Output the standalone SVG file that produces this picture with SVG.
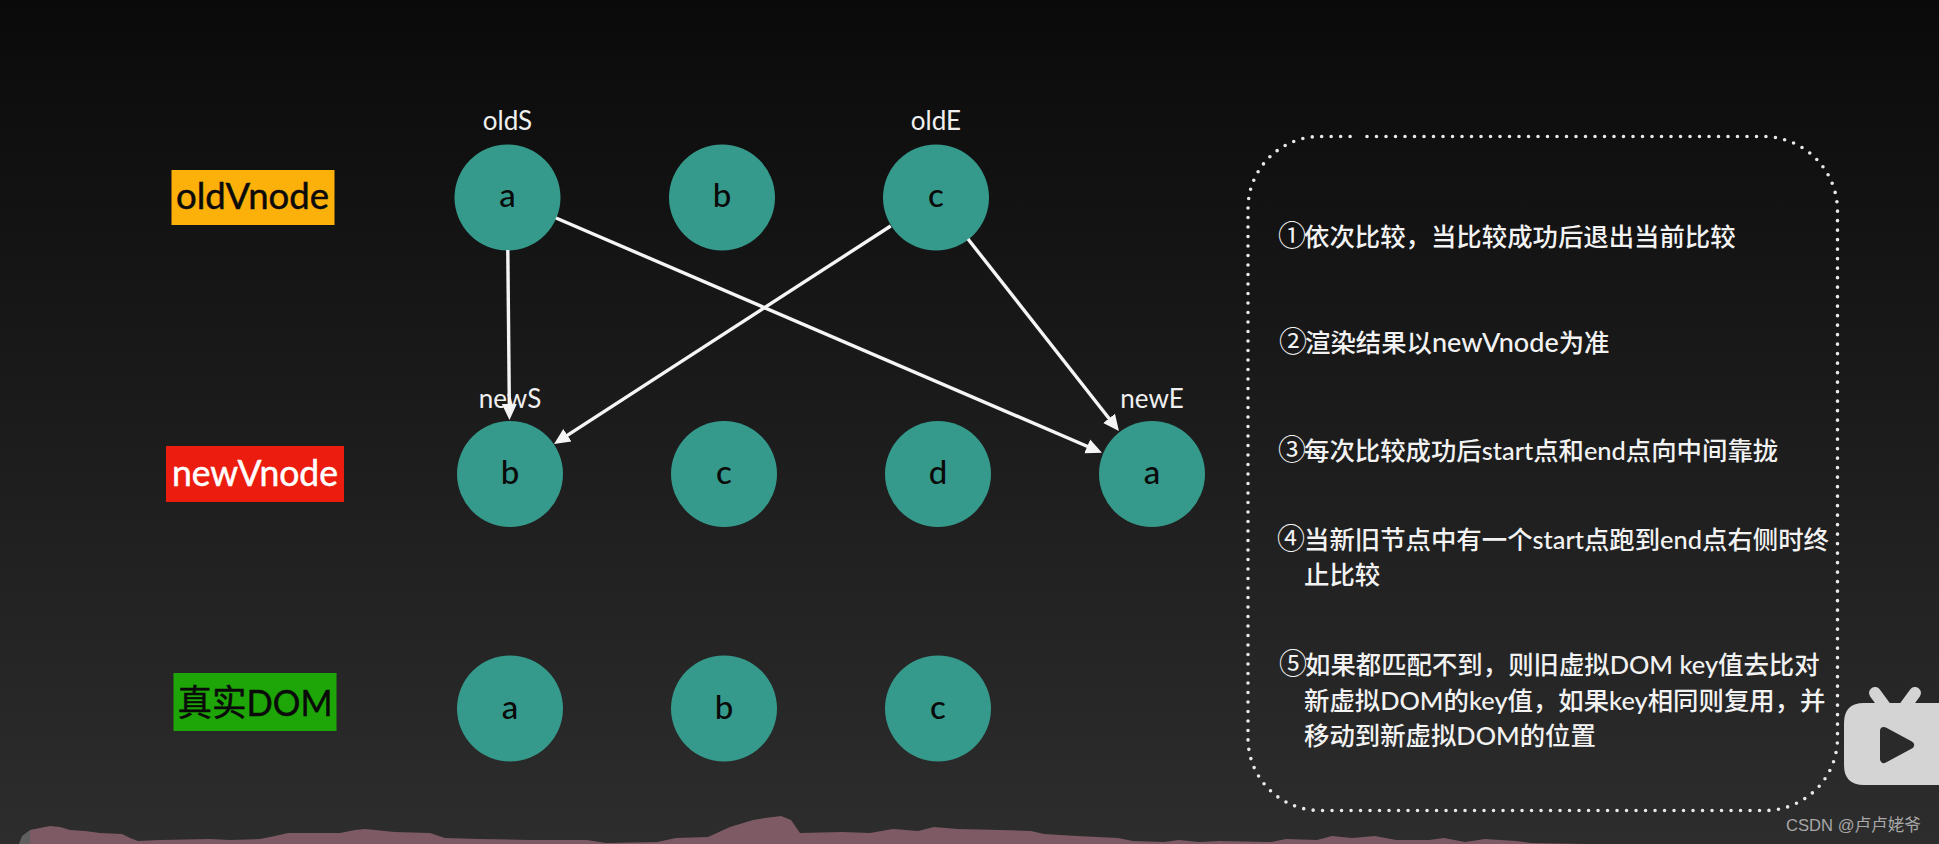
<svg xmlns="http://www.w3.org/2000/svg" width="1939" height="844" viewBox="0 0 1939 844">
<style>
.n{fill:#359a8b}
.t{font-family:"Lato","Noto Sans CJK SC",sans-serif;font-size:33px;font-weight:500;fill:#0a0a0a;text-anchor:middle}
.s{font-family:"Lato","Noto Sans",sans-serif;font-size:26px;fill:#f0f0f0;text-anchor:middle}
.l{font-family:"Lato","Noto Sans CJK SC",sans-serif;font-size:36px;font-weight:400;text-anchor:middle;stroke-width:.5}
.p{font-family:"Lato","Noto Sans CJK SC",sans-serif;font-size:25.4px;font-weight:500;fill:#f2f2f2}
.o{font-family:"Noto Sans CJK SC",sans-serif;font-size:28px;font-weight:400}
.w{font-size:27px}
.c{fill:none;stroke:#f5f5f5;stroke-width:3.4;marker-end:url(#ah)}
</style>
<defs>
<linearGradient id="bg" x1="0" y1="0" x2="0" y2="1"><stop offset="0" stop-color="#0a0a0a"/><stop offset="1" stop-color="#2d2d2d"/></linearGradient>
<marker id="ah" markerUnits="userSpaceOnUse" markerWidth="19" markerHeight="18" refX="8" refY="8.5" orient="auto"><path d="M0 1 L16 8.5 L0 16 Z" fill="#f5f5f5"/></marker>
</defs>
<rect width="1939" height="844" fill="url(#bg)"/>
<path id="wave-end" d="M19 844 L22 836 L30 830 L30 844Z" fill="#5f5f5f"/>
<path id="wave" fill="#7d5a64" d="M30 844 L30 830 L40 828 L50 826 L60 827 L70 830 L85 831 L100 833 L122 834 L130 838 L138 841 L160 840 L210 839 L230 840 L260 839 L275 836 L288 833 L340 833 L355 830 L365 829 L395 832 L430 833 L445 838 L480 839 L529 840 L587 840 L606 843 L657 842 L676 838 L708 837 L730 827 L753 820 L765 818 L781 816 L791 820 L800 833 L842 832 L870 833 L893 829 L918 831 L934 827 L957 829 L1000 830 L1031 831 L1044 834 L1077 836 L1118 838 L1133 841 L1164 842 L1179 840 L1199 842 L1220 841 L1271 842 L1286 839 L1317 840 L1332 836 L1352 838 L1375 836 L1396 840 L1429 840 L1444 838 L1465 842 L1485 839 L1516 841 L1531 843 L1587 844 Z"/>
<g id="label-old"><rect x="171.5" y="170" width="163" height="55" fill="#fcb00a"/><text class="l" x="252.5" y="209" fill="#0a0a0a" stroke="#0a0a0a" textLength="153" lengthAdjust="spacingAndGlyphs">oldVnode</text></g>
<g id="label-new"><rect x="166" y="446" width="178" height="56" fill="#ec1c0e"/><text class="l" x="255" y="486" fill="#fff" stroke="#fff" textLength="166" lengthAdjust="spacingAndGlyphs">newVnode</text></g>
<g id="label-dom"><rect x="173.5" y="673" width="163" height="58" fill="#1ea507"/><text class="l" x="255" y="716" fill="#0a0a0a" stroke="#0a0a0a" textLength="155" lengthAdjust="spacingAndGlyphs">真实DOM</text></g>
<g id="old-a"><circle class="n" cx="507.5" cy="197.5" r="53"/><text class="t" x="507.5" y="207">a</text><text class="s" x="507.5" y="130">oldS</text></g>
<g id="old-b"><circle class="n" cx="722" cy="197.5" r="53"/><text class="t" x="722" y="207">b</text></g>
<g id="old-c"><circle class="n" cx="936" cy="197.5" r="53"/><text class="t" x="936" y="207">c</text><text class="s" x="936" y="130">oldE</text></g>
<g id="new-b"><circle class="n" cx="510" cy="474" r="53"/><text class="t" x="510" y="484">b</text><text class="s" x="510" y="408">newS</text></g>
<g id="new-c"><circle class="n" cx="724" cy="474" r="53"/><text class="t" x="724" y="484">c</text></g>
<g id="new-d"><circle class="n" cx="938" cy="474" r="53"/><text class="t" x="938" y="484">d</text></g>
<g id="new-a"><circle class="n" cx="1152" cy="474" r="53"/><text class="t" x="1152" y="484">a</text><text class="s" x="1152" y="408">newE</text></g>
<g id="dom-a"><circle class="n" cx="510" cy="708.5" r="53"/><text class="t" x="510" y="719">a</text></g>
<g id="dom-b"><circle class="n" cx="724" cy="708.5" r="53"/><text class="t" x="724" y="719">b</text></g>
<g id="dom-c"><circle class="n" cx="938" cy="708.5" r="53"/><text class="t" x="938" y="719">c</text></g>
<g id="connectors">
<path class="c" d="M507.8 250 L509.4 412"/>
<path class="c" d="M556 218 L1094.6 449.5"/>
<path class="c" d="M968 239 L1114 424.7"/>
<path class="c" d="M890.7 226 L560.7 439.6"/>
</g>
<g id="notes">
<path d="M1367 136.5 H1763 A74.5 74.5 0 0 1 1837.5 211 V738 A72.5 72.5 0 0 1 1765 810.5 H1320 A72 72 0 0 1 1248 738.5 V208.5 A72 72 0 0 1 1320 136.5 H1352" fill="none" stroke="#e8e8e8" stroke-width="3.6" stroke-linecap="round" stroke-dasharray="0 9.5"/>
<text class="p" x="1278" y="245.5"><tspan class="o">①</tspan><tspan x="1304">依次比较，当比较成功后退出当前比较</tspan></text>
<text class="p" x="1279" y="352"><tspan class="o">②</tspan><tspan x="1305">渲染结果以</tspan><tspan class="w">newVnode</tspan>为准</text>
<text class="p" x="1278" y="460"><tspan class="o">③</tspan><tspan x="1304">每次比较成功后start点和end点向中间靠拢</tspan></text>
<text class="p" x="1277" y="549"><tspan class="o">④</tspan><tspan x="1304">当新旧节点中有一个start点跑到end点右侧时终</tspan></text>
<text class="p" x="1304" y="584">止比较</text>
<text class="p" x="1279" y="674"><tspan class="o">⑤</tspan><tspan x="1305">如果都匹配不到，则旧虚拟DOM key值去比对</tspan></text>
<text class="p" x="1304" y="709.5">新虚拟DOM的key值，如果key相同则复用，并</text>
<text class="p" x="1304" y="744.5">移动到新虚拟DOM的位置</text>
</g>
<g id="tv-icon">
<path d="M1875 693 L1886 708 M1915 693 L1904 708" stroke="#d4d4d4" stroke-width="12" stroke-linecap="round"/>
<path d="M1864 703 H1939 V785 H1864 Q1844 785 1844 765 V723 Q1844 703 1864 703Z" fill="#d4d4d4"/>
<path d="M1884 731 L1910 745 L1884 759 Z" fill="#2a2a2a" stroke="#2a2a2a" stroke-width="8" stroke-linejoin="round"/>
</g>
<text id="watermark" x="1786" y="831" font-family="'Liberation Sans','Noto Sans CJK SC',sans-serif" font-size="16.6" fill="#a8a8a8">CSDN @卢卢姥爷</text>
</svg>
